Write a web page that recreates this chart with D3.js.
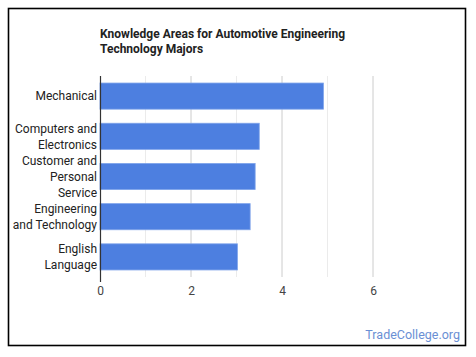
<!DOCTYPE html>
<html><head><meta charset="utf-8">
<script src="https://cdn.jsdelivr.net/npm/d3@7"></script>
<style>body{margin:0;background:#fff;font-family:Roboto,Arial,sans-serif}</style>
</head><body>
<script>
const categories = [["Mechanical"],["Computers and","Electronics"],["Customer and","Personal","Service"],["Engineering","and Technology"],["English","Language"]];
const values = [4.91, 3.5, 3.41, 3.3, 3.02];
const tickValues = [0, 2, 4, 6];
const gridValues = [1, 2, 3, 4, 5, 6];
const titleLines = ["Knowledge Areas for Automotive Engineering", "Technology Majors"];

const W = 476, H = 357;
const svg = d3.select("body").append("svg").attr("width", W).attr("height", H);
svg.append("rect").attr("x", 8.5).attr("y", 8.5).attr("width", 457).attr("height", 337)
  .attr("fill", "#fff").attr("stroke", "#000").attr("stroke-width", 1.6);

const x = d3.scaleLinear().domain([0, 6]).range([100, 373]);
const y = d3.scaleBand().domain(d3.range(categories.length)).range([76, 277]).paddingInner(0.35).paddingOuter(0.175);

svg.append("g").selectAll("text").data(titleLines).join("text")
  .attr("x", 100).attr("y", (d, i) => 38 + i * 15)
  .attr("font-size", 12).attr("font-weight", "bold").attr("fill", "#222").text(d => d);

svg.append("g").selectAll("line").data(gridValues).join("line")
  .attr("x1", d => x(d)).attr("x2", d => x(d)).attr("y1", 76).attr("y2", 277)
  .attr("stroke", d => d % 2 === 0 ? "#cccccc" : "#ebebeb").attr("stroke-width", 1);

svg.append("g").selectAll("rect").data(values).join("rect")
  .attr("x", x(0)).attr("y", (d, i) => y(i)).attr("width", d => x(d) - x(0)).attr("height", y.bandwidth())
  .attr("fill", "#4d7fe0").attr("stroke", "#7ea3ea").attr("stroke-width", 0.8);

svg.append("line").attr("x1", 100.5).attr("x2", 100.5).attr("y1", 76).attr("y2", 282).attr("stroke", "#333").attr("stroke-width", 1.2);

const xAxis = d3.axisBottom(x).tickValues(tickValues).tickSize(0).tickPadding(0).tickFormat(d3.format("d"));
const gx = svg.append("g").attr("transform", "translate(0,277)").call(xAxis);
gx.select(".domain").remove();
gx.selectAll("text").attr("font-family", "Roboto,Arial,sans-serif").attr("font-size", 12).attr("fill", "#444").attr("dy", null).attr("y", 18);

const lab = svg.append("g").selectAll("text").data(categories).join("text")
  .attr("text-anchor", "end").attr("font-size", 12).attr("fill", "#222");
lab.each(function(lines, i) {
  const cy = y(i) + y.bandwidth() / 2;
  const t = d3.select(this);
  lines.forEach((l, j) => {
    t.append("tspan").attr("x", 97).attr("y", cy + (j - (lines.length - 1) / 2) * 16 + 4.3).text(l);
  });
});

svg.append("text").attr("x", 460).attr("y", 339).attr("text-anchor", "end")
  .attr("font-size", 12.5).attr("fill", "#6a8fd4").text("TradeCollege.org");
</script>
</body></html>
